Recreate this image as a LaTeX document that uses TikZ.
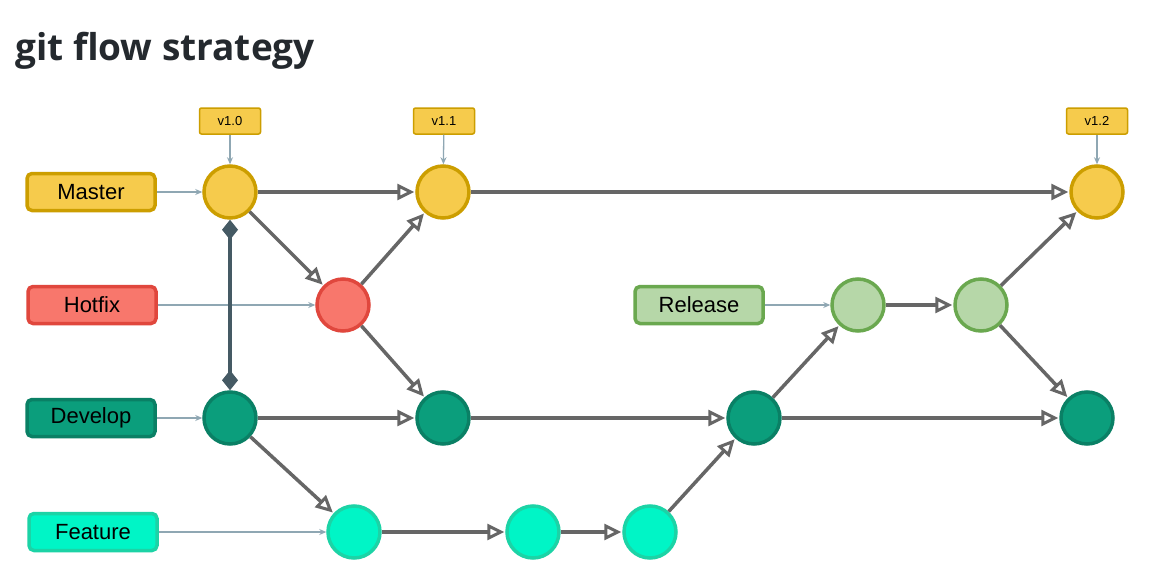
\documentclass[tikz,border=0pt]{standalone}
\usepackage{fontspec}
\setmainfont{Liberation Sans}
\newfontfamily\titlefont{Open Sans}
\usetikzlibrary{arrows.meta}
\definecolor{mfill}{HTML}{F6CB4C}
\definecolor{mdraw}{HTML}{CC9E00}
\definecolor{hfill}{HTML}{F8776C}
\definecolor{hdraw}{HTML}{E0473D}
\definecolor{rfill}{HTML}{B6D7A8}
\definecolor{rdraw}{HTML}{6AA84F}
\definecolor{dfill}{HTML}{0B9E7C}
\definecolor{ddraw}{HTML}{0A8065}
\definecolor{ffill}{HTML}{00F5C6}
\definecolor{fdraw}{HTML}{1CD3A6}
\definecolor{edgec}{HTML}{666666}
\definecolor{thinc}{HTML}{8FA7B3}
\definecolor{slate}{HTML}{455A64}
\definecolor{titlec}{HTML}{24292E}
\begin{document}
\begin{tikzpicture}[x=1pt,y=-1pt,
  commit/.style={circle,minimum size=52pt,inner sep=0pt,line width=3.5pt},
  lbl/.style={rounded corners=5pt,minimum width=128pt,minimum height=37pt,inner sep=0pt,line width=3.5pt,font=\fontsize{22}{26}\selectfont},
  tag/.style={rounded corners=2pt,minimum width=61pt,minimum height=26pt,inner sep=0pt,line width=1.5pt,draw=mdraw,fill=mfill,font=\fontsize{13}{15}\selectfont},
  flow/.style={draw=edgec,line width=3.5pt,-{Triangle[open,length=17pt,width=16pt,line width=3pt]},shorten >=1pt},
  thin/.style={draw=thinc,line width=1.3pt,-{Stealth[length=7pt,width=6pt]}},
  M/.style={commit,draw=mdraw,fill=mfill},
  H/.style={commit,draw=hdraw,fill=hfill},
  R/.style={commit,draw=rdraw,fill=rfill},
  D/.style={commit,draw=ddraw,fill=dfill},
  F/.style={commit,draw=fdraw,fill=ffill}]
\useasboundingbox[fill=white] (0,0) rectangle (1149,586);
\node[anchor=base west,font=\titlefont\bfseries\fontsize{37}{40}\selectfont,text=titlec,inner sep=0pt] (title) at (15,61) {git flow strategy};
% labels
\node[lbl,draw=mdraw,fill=mfill] (lm) at (91,192) {Master};
\node[lbl,draw=hdraw,fill=hfill] (lh) at (92,305) {Hotfix};
\node[lbl,draw=rdraw,fill=rfill] (lr) at (699,305) {Release};
\node[lbl,draw=ddraw,fill=dfill] (ld) at (91,418) {Develop};
\node[lbl,draw=fdraw,fill=ffill] (lf) at (93,532) {Feature};
% commits
\node[M] (m1) at (230,192) {};
\node[M] (m2) at (443,192) {};
\node[M] (m3) at (1097,192) {};
\node[H] (h1) at (343,305) {};
\node[R] (r1) at (858,305) {};
\node[R] (r2) at (981,305) {};
\node[D] (d1) at (230,418) {};
\node[D] (d2) at (443,418) {};
\node[D] (d3) at (754,418) {};
\node[D] (d4) at (1087,418) {};
\node[F] (f1) at (354,532) {};
\node[F] (f2) at (533,532) {};
\node[F] (f3) at (650,532) {};
% tags
\node[tag] (t1) at (230,121) {v1.0};
\node[tag] (t2) at (444,121) {v1.1};
\node[tag] (t3) at (1097,121) {v1.2};
% thin connectors
\draw[thin] (t1) -- (m1);
\draw[thin] (t2) -- (m2);
\draw[thin] (t3) -- (m3);
\draw[thin] (lm) -- (m1);
\draw[thin] (lh) -- (h1);
\draw[thin] (lr) -- (r1);
\draw[thin] (ld) -- (d1);
\draw[thin] (lf) -- (f1);
% diamond link
\draw[slate,line width=4pt,{Diamond[length=20pt,width=16pt]}-{Diamond[length=20pt,width=16pt]}] (m1) -- (d1);
% flow edges
\draw[flow] (m1) -- (m2);
\draw[flow] (m2) -- (m3);
\draw[flow] (m1) -- (h1);
\draw[flow] (h1) -- (m2);
\draw[flow] (h1) -- (d2);
\draw[flow] (d1) -- (d2);
\draw[flow] (d2) -- (d3);
\draw[flow] (d3) -- (d4);
\draw[flow] (d1) -- (f1);
\draw[flow] (f1) -- (f2);
\draw[flow] (f2) -- (f3);
\draw[flow] (f3) -- (d3);
\draw[flow] (d3) -- (r1);
\draw[flow] (r1) -- (r2);
\draw[flow] (r2) -- (m3);
\draw[flow] (r2) -- (d4);
\end{tikzpicture}
\end{document}
